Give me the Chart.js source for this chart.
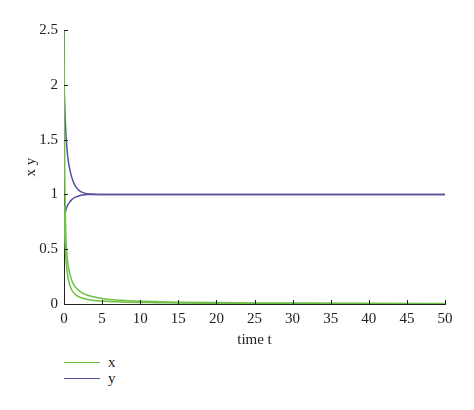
<!DOCTYPE html>
<html>
<head>
<meta charset="utf-8">
<script src="https://cdn.jsdelivr.net/npm/chart.js@4.4.0/dist/chart.umd.min.js"></script>
<style>
  body { margin: 0; background: #fff; }
  #wrap { position: relative; width: 474px; height: 410px; }
  #box { position: absolute; left: 0; top: 0; width: 474px; height: 350px; }
  .legend { position: absolute; left: 64px; font: 15px "Liberation Serif", serif; color: #222; }
  .legend div { height: 16px; line-height: 16px; display: flex; align-items: center; }
  .legend span.ln { display: inline-block; width: 36px; height: 0; border-top: 1.6px solid; margin-right: 8px; }
</style>
</head>
<body>
<div id="wrap">
  <div id="box"><canvas id="c"></canvas></div>
  <div class="legend" id="legend" style="top:354px"></div>
</div>
<script>
// time samples (t)
const times = [0, 0.1, 0.2, 0.3, 0.4, 0.5, 0.75, 1, 1.25, 1.5, 2, 2.5, 3, 4, 5, 6, 8, 10, 12, 15, 20, 25, 30, 40, 50];

// x trajectories (green)
const xUpper = [2.6, 1.2, 0.74, 0.54, 0.44, 0.37, 0.28, 0.22, 0.18, 0.155, 0.12, 0.097, 0.082, 0.063, 0.05, 0.042, 0.032, 0.026, 0.022, 0.017, 0.013, 0.01, 0.008, 0.006, 0.005];
const xLower = [0.9, 0.62, 0.47, 0.37, 0.3, 0.25, 0.175, 0.13, 0.104, 0.086, 0.064, 0.052, 0.044, 0.033, 0.027, 0.022, 0.017, 0.014, 0.012, 0.009, 0.007, 0.005, 0.004, 0.003, 0.002];

// y trajectories (blue)
const yUpper = [2.0, 1.8, 1.62, 1.5, 1.41, 1.34, 1.23, 1.16, 1.11, 1.075, 1.035, 1.016, 1.007, 1.002, 1, 1, 1, 1, 1, 1, 1, 1, 1, 1, 1];
const yLower = [0.75, 0.8, 0.84, 0.87, 0.89, 0.905, 0.93, 0.95, 0.965, 0.975, 0.988, 0.995, 0.998, 1, 1, 1, 1, 1, 1, 1, 1, 1, 1, 1, 1];

const xTicks = [0, 5, 10, 15, 20, 25, 30, 35, 40, 45, 50];
const yTicks = [0, 0.5, 1, 1.5, 2, 2.5];

const greenColor = '#6fbf47';
const blueColor = '#5650a3';
const font = '"Liberation Serif", serif';

function toPoints(vals) {
  return times.map((t, i) => ({ x: t, y: vals[i] }));
}

function makeSet(label, vals, color) {
  return {
    label: label,
    data: toPoints(vals),
    borderColor: color,
    borderWidth: 1.5,
    pointRadius: 0,
    fill: false,
    cubicInterpolationMode: 'monotone'
  };
}

// draw the small ticks pointing into the plot
const innerTicks = {
  id: 'innerTicks',
  afterDraw(chart) {
    const { ctx, chartArea } = chart;
    const xs = chart.scales.x, ys = chart.scales.y;
    ctx.save();
    ctx.strokeStyle = '#222';
    ctx.lineWidth = 1;
    ctx.beginPath();
    xTicks.forEach(v => {
      const px = Math.round(xs.getPixelForValue(v)) + 0.5;
      ctx.moveTo(px, chartArea.bottom);
      ctx.lineTo(px, chartArea.bottom - 4);
    });
    yTicks.forEach(v => {
      const py = Math.round(ys.getPixelForValue(v)) + 0.5;
      ctx.moveTo(chartArea.left, py);
      ctx.lineTo(chartArea.left + 4, py);
    });
    ctx.stroke();
    ctx.restore();
  }
};

const ctx = document.getElementById('c').getContext('2d');
new Chart(ctx, {
  type: 'line',
  data: {
    datasets: [
      makeSet('x', xUpper, greenColor),
      makeSet('x', xLower, greenColor),
      makeSet('y', yUpper, blueColor),
      makeSet('y', yLower, blueColor)
    ]
  },
  options: {
    responsive: true,
    maintainAspectRatio: false,
    animation: false,
    layout: { padding: { left: 22, right: 29, top: 30, bottom: 0 } },
    plugins: { legend: { display: false }, tooltip: { enabled: false } },
    scales: {
      x: {
        type: 'linear',
        min: 0, max: 50,
        afterBuildTicks: s => { s.ticks = xTicks.map(v => ({ value: v })); },
        afterFit: s => { s.height = 46; },
        grid: { display: false, drawTicks: false },
        border: { display: true, color: '#222', width: 1 },
        ticks: { color: '#222', padding: 6, font: { family: font, size: 15 }, maxRotation: 0 },
        title: { display: true, text: 'time t', color: '#222', font: { family: font, size: 15 }, padding: { top: 4, bottom: 1 } }
      },
      y: {
        min: 0, max: 2.5,
        afterBuildTicks: s => { s.ticks = yTicks.map(v => ({ value: v })); },
        afterFit: s => { s.width = 42; },
        grid: { display: false, drawTicks: false },
        border: { display: true, color: '#222', width: 1 },
        ticks: { color: '#222', padding: 6, font: { family: font, size: 15 }, callback: v => String(v) },
        title: { display: true, text: 'x y', color: '#222', font: { family: font, size: 15 }, padding: 0 }
      }
    }
  },
  plugins: [innerTicks]
});

// legend: one entry per series name
const legendItems = [{ label: 'x', color: greenColor }, { label: 'y', color: blueColor }];
const legendEl = document.getElementById('legend');
legendItems.forEach(item => {
  const row = document.createElement('div');
  row.innerHTML = '<span class="ln" style="border-color:' + item.color + '"></span>' + item.label;
  legendEl.appendChild(row);
});
</script>
</body>
</html>
